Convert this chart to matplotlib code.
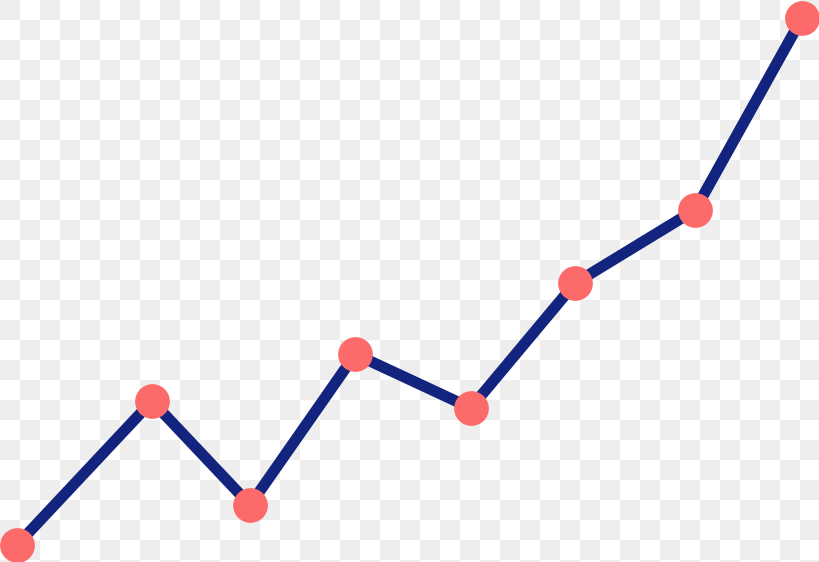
"""Line chart with round markers over a checkerboard background."""

import matplotlib
matplotlib.use("Agg")
import matplotlib.pyplot as plt
import numpy as np

# Values (both axes on a 0-100 scale).
x_values = [0.0, 17.2, 29.7, 43.1, 57.8, 71.1, 86.4, 100.0]
y_values = [0.0, 27.3, 7.6, 36.2, 26.0, 49.7, 63.6, 100.0]

line_color = "#13247e"
marker_color = "#fd6a6a"

W, H, DPI = 820, 562, 100


def checkerboard(width, height, cell=20, light=1.0, dark=0.937):
    rows = np.arange(height)[:, None] // cell
    cols = np.arange(width)[None, :] // cell
    grid = np.where((rows + cols) % 2 == 0, dark, light)
    return np.dstack([grid, grid, grid])


def main():
    fig = plt.figure(figsize=(W / DPI, H / DPI), dpi=DPI)

    # Background: transparency-style checkerboard, one image pixel per screen pixel.
    bg = fig.add_axes([0, 0, 1, 1], zorder=0)
    bg.imshow(checkerboard(W, H), interpolation="nearest", aspect="auto",
              extent=(0, W, H, 0))
    bg.axis("off")

    ax = fig.add_axes([0, 0, 1, 1], zorder=1)
    ax.patch.set_alpha(0)
    ax.plot(x_values, y_values, color=line_color, linewidth=8,
            solid_capstyle="butt", zorder=2)
    ax.plot(x_values, y_values, linestyle="none", marker="o", markersize=25,
            markerfacecolor=marker_color, markeredgecolor="none",
            clip_on=False, zorder=3)

    # Map the 0-100 values onto the drawn area.
    ax.set_xlim(-17 / 7.85, 100 + 18 / 7.85)
    ax.set_ylim(-17 / 5.27, 100 + 18 / 5.27)
    ax.axis("off")

    fig.savefig("out.png", dpi=DPI)


if __name__ == "__main__":
    main()
